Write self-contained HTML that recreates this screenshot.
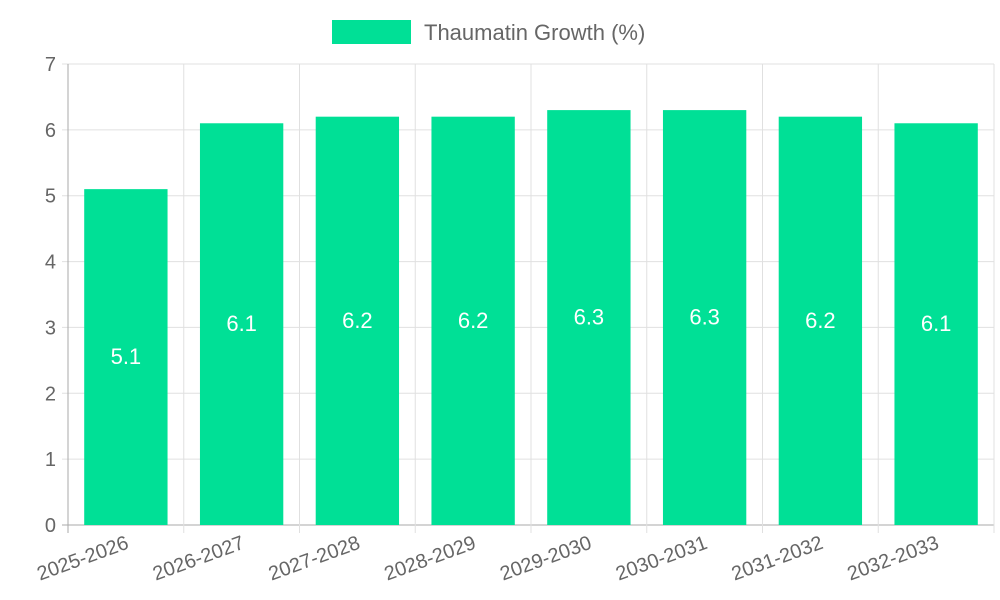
<!DOCTYPE html>
<html><head><meta charset="utf-8"><style>body{margin:0;background:#fff}svg{display:block}</style></head>
<body>
<svg id="chart" width="1000" height="600" xmlns="http://www.w3.org/2000/svg" font-family="Liberation Sans, sans-serif">
<g>
<rect x="332" y="20" width="79" height="24" fill="#00e096"/>
<text x="424" y="40" font-size="22" fill="#666">Thaumatin Growth (%)</text>
</g>
<g id="grid"></g><g id="bars"></g><g id="labels"></g>
</svg>
<script>
const categories=["2025-2026","2026-2027","2027-2028","2028-2029","2029-2030","2030-2031","2031-2032","2032-2033"];
const values=[5.1,6.1,6.2,6.2,6.3,6.3,6.2,6.1];
const yTicks=[0,1,2,3,4,5,6,7];
const NS="http://www.w3.org/2000/svg";
const L=68,R=994,T=64,B=525,yMax=7;
const bw=(R-L)/categories.length;
const y=v=>B-(v/yMax)*(B-T);
const x=i=>L+i*bw;
function mk(tag,attrs,parent){const e=document.createElementNS(NS,tag);for(const k in attrs)e.setAttribute(k,attrs[k]);document.getElementById(parent).appendChild(e);return e;}
yTicks.forEach(t=>{
 const g=mk('line',{x1:L-6,x2:R,y1:y(t),y2:y(t),stroke:t===0?'#aaa':'#e0e0e0','stroke-width':1},'grid');
 
 
 const tx=mk('text',{x:L-12,y:y(t)+7,'text-anchor':'end','font-size':20,fill:'#666'},'labels');
 tx.textContent=t;
 
 
});
for(let i=0;i<=categories.length;i++){
 const g=mk('line',{x1:x(i),x2:x(i),y1:T,y2:B+8,stroke:i===0?'#aaa':'#e0e0e0','stroke-width':1},'grid');
 
 
}
categories.forEach((c,i)=>{
 const cx=x(i)+bw/2,w=bw*0.72;
 const r=mk('rect',{x:cx-w/2,y:y(values[i]),width:w,height:B-y(values[i]),fill:'#00e096'},'bars');
 
 
 const v=mk('text',{x:cx,y:(y(values[i])+B)/2+7,'text-anchor':'middle','font-size':22,fill:'#fff'},'labels');
 v.textContent=values[i];
 
 
 const t=mk('text',{x:cx+4,y:548,'text-anchor':'end','font-size':20,fill:'#666',transform:`rotate(-20 ${cx+4} 548)`},'labels');
 t.textContent=c;
 
 
});
</script>
</body></html>
